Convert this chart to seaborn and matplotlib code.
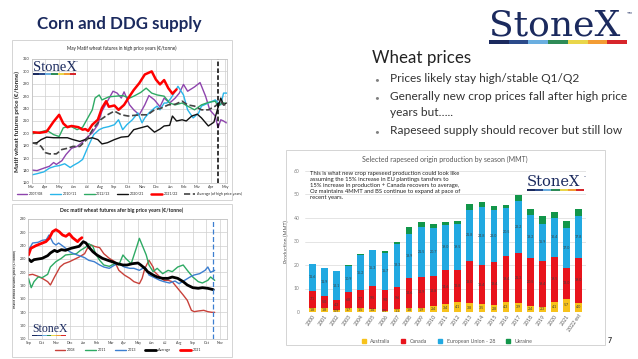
import numpy as np
import pandas as pd
import matplotlib
matplotlib.use("Agg")
import matplotlib.pyplot as plt
import seaborn as sns
from matplotlib.patches import Rectangle
from matplotlib.lines import Line2D

# ---------------- data ----------------
# top-left chart: May Matif wheat futures (x = month index from Mar)
months_top = ['Mar', 'Apr', 'May', 'Jun', 'Jul', 'Aug', 'Sep', 'Oct', 'Nov', 'Dec',
              'Jan', 'Feb', 'Mar', 'Apr', 'May']
red21_x = [0, 0.6, 1.1, 1.6, 2.0, 2.3, 2.6, 2.9, 3.4, 3.7, 3.9, 4.1, 4.4, 4.8, 5.1, 5.4,
           5.6, 6.0, 6.3, 6.7, 7.1, 7.4, 7.8, 8.2, 8.7, 9.0, 9.3, 9.6, 9.9, 10.2, 10.5]
red21_y = [202, 201, 203, 219, 230, 216, 210, 212, 210, 206, 207, 204, 214, 222, 241, 252,
           243, 245, 238, 246, 260, 270, 281, 295, 300, 287, 279, 286, 273, 264, 271]
green12_x = [0, 0.6, 1.1, 1.6, 2.0, 2.3, 2.8, 3.3, 3.7, 4.0, 4.4, 4.6, 4.9, 5.1, 5.6, 6.1,
             6.6, 7.1, 7.4, 7.9, 8.3, 8.7, 9.1, 9.6, 10.0, 10.4, 10.9, 11.3, 11.8, 12.3,
             12.8, 13.3, 13.5, 13.8, 14.0]
green12_y = [199, 202, 205, 198, 195, 209, 212, 206, 210, 222, 238, 257, 262, 254, 259, 260,
             261, 257, 260, 266, 273, 265, 262, 260, 249, 246, 249, 244, 238, 246,
             250, 252, 244, 249, 249]
purple07_x = [0, 0.4, 0.9, 1.3, 1.6, 1.8, 2.2, 2.5, 2.9, 3.3, 3.7, 4.0, 4.4, 4.8, 5.1, 5.5,
              5.9, 6.2, 6.5, 6.7, 7.1, 7.4, 7.8, 8.2, 8.5, 8.9, 9.3, 9.6, 10.0, 10.4, 10.7,
              11.0, 11.3, 11.8, 12.2, 12.6, 12.9, 13.3, 13.5, 13.7, 13.9, 14.1]
purple07_y = [141, 140, 144, 147, 153, 150, 156, 166, 176, 179, 186, 193, 201, 214, 236, 252,
              268, 265, 257, 267, 246, 238, 230, 246, 261, 254, 243, 257, 249, 257, 265,
              279, 268, 275, 282, 260, 238, 228, 209, 222, 220, 217]
blue10_x = [0, 0.4, 0.9, 1.3, 1.7, 2.0, 2.4, 2.8, 3.0, 3.4, 3.7, 4.1, 4.5, 4.9, 5.2, 5.6,
            6.0, 6.3, 6.6, 6.9, 7.3, 7.7, 8.0, 8.2, 8.5, 8.9, 9.1, 9.3, 9.6, 9.8, 10.1,
            10.4, 10.6, 11.0, 11.3, 11.7, 12.1, 12.3, 12.8, 13.3, 13.7, 13.9, 14.2]
blue10_y = [133, 135, 138, 144, 147, 148, 151, 145, 148, 153, 158, 179, 198, 206, 209, 211,
            214, 222, 206, 214, 222, 233, 217, 225, 233, 241, 244, 238, 249, 249, 257,
            268, 276, 262, 238, 225, 233, 244, 249, 254, 246, 265, 265]
black20_x = [0, 0.4, 0.7, 1.1, 1.6, 2.1, 2.6, 3.0, 3.5, 4.0, 4.4, 4.8, 5.1, 5.5, 6.0, 6.5,
             7.0, 7.4, 7.9, 8.4, 8.9, 9.3, 9.6, 10.0, 10.2, 10.5, 10.9, 11.2, 11.6, 12.0,
             12.3, 12.8, 13.2, 13.4, 13.7, 13.9, 14.1]
black20_y = [184, 185, 190, 194, 193, 193, 193, 190, 187, 191, 193, 190, 183, 185, 190, 194,
             195, 206, 209, 212, 202, 207, 212, 213, 228, 220, 222, 220, 228, 231,
             225, 212, 218, 234, 257, 246, 249]
avg_top_x = [0, 0.4, 0.7, 1.0, 1.3, 1.8, 2.2, 2.6, 3.0, 3.5, 4.0, 4.5, 5.0, 5.5, 6.0, 6.5,
             7.0, 7.4, 7.9, 8.4, 8.9, 9.4, 9.9, 10.4, 10.9, 11.3, 11.8, 12.3, 12.8, 13.3,
             13.7, 13.9, 14.1]
avg_top_y = [185, 183, 179, 169, 167, 167, 174, 176, 179, 179, 190, 209, 222, 230, 236, 230,
             228, 229, 230, 230, 238, 241, 246, 247, 252, 246, 244, 238, 238, 244,
             252, 246, 246]

# bottom-left chart: Dec Matif wheat futures (x = month index from Sep)
months_bot = ['Sep', 'Oct', 'Nov', 'Dec', 'Jan', 'Feb', 'Mar', 'Apr', 'May', 'Jun', 'Jul',
              'Aug', 'Sep', 'Oct', 'Nov']
r21_x = [0, 0.17, 0.54, 0.90, 1.27, 1.51, 1.76, 2.0, 2.24, 2.49, 2.73, 2.98, 3.22, 3.59,
         3.71, 3.9]
r21_y = [226, 236, 240, 243, 246, 251, 261, 264, 261, 256, 254, 258, 252, 246, 249, 252]
b13_x = [0, 0.3, 0.7, 1.0, 1.3, 1.5, 1.8, 2.0, 2.2, 2.6, 3.0, 3.3, 3.7, 4.1, 4.4, 4.8,
         5.2, 5.5, 5.9, 6.3, 6.6, 7.0, 7.4, 7.7, 8.1, 8.5, 8.8, 9.2, 9.6, 9.9, 10.3,
         10.7, 11.0, 11.4, 11.8, 12.1, 12.5, 12.9, 13.1, 13.3, 13.6]
b13_y = [233, 244, 245, 248, 249, 256, 244, 241, 244, 238, 231, 228, 225, 222, 218, 216,
         211, 208, 206, 211, 213, 208, 206, 206, 203, 208, 196, 192, 188, 186, 184,
         187, 183, 188, 193, 196, 198, 203, 208, 200, 203]
g11_x = [0, 0.2, 0.4, 0.7, 1.0, 1.4, 1.6, 2.0, 2.4, 2.7, 3.1, 3.5, 3.8, 4.2, 4.4, 4.7,
         4.9, 5.2, 5.5, 5.9, 6.3, 6.6, 6.9, 7.1, 7.5, 7.9, 8.1, 8.3, 8.6, 8.8, 9.1,
         9.4, 9.8, 10.2, 10.5, 10.9, 11.3, 11.6, 12.0, 12.4, 12.7, 13.1, 13.3, 13.6]
g11_y = [191, 177, 186, 193, 192, 197, 208, 216, 221, 226, 227, 228, 233, 238, 243, 239,
         228, 218, 211, 209, 213, 211, 226, 221, 213, 238, 251, 241, 226, 211, 201,
         206, 198, 203, 201, 208, 211, 203, 193, 186, 184, 188, 193, 188]
r08_x = [0, 0.3, 0.7, 1.0, 1.4, 1.6, 1.9, 2.3, 2.6, 3.0, 3.3, 3.7, 4.1, 4.3, 4.6, 4.8,
         5.2, 5.5, 5.9, 6.3, 6.6, 7.0, 7.4, 7.7, 8.1, 8.3, 8.5, 8.8, 9.1, 9.2, 9.6,
         9.9, 10.2, 10.5, 10.9, 11.3, 11.6, 11.9, 12.1, 12.4, 12.8, 13.1, 13.4, 13.6]
r08_y = [196, 197, 194, 191, 186, 181, 193, 208, 213, 216, 219, 223, 228, 236, 241, 239,
         237, 228, 221, 216, 203, 196, 191, 186, 183, 191, 206, 218, 208, 201, 193,
         188, 188, 186, 176, 166, 158, 143, 141, 142, 143, 141, 140, 140]
avg_bot_x = [0, 0.2, 0.4, 0.7, 1.0, 1.4, 1.6, 1.9, 2.1, 2.4, 2.7, 3.1, 3.5, 3.7, 4.0, 4.2,
             4.4, 4.7, 5.0, 5.4, 5.8, 6.1, 6.5, 6.9, 7.2, 7.6, 8.0, 8.2, 8.5, 8.7, 9.1,
             9.4, 9.8, 10.2, 10.5, 10.9, 11.3, 11.6, 12.0, 12.4, 12.7, 13.1, 13.5]
avg_bot_y = [220, 216, 219, 220, 221, 225, 229, 233, 231, 234, 233, 236, 238, 239, 246, 244,
             238, 231, 226, 221, 218, 216, 213, 211, 211, 213, 214, 211, 206, 201, 196,
             193, 191, 191, 193, 191, 186, 181, 177, 176, 177, 176, 174]

# right: rapeseed production (MMT)
seasons = ['2000', '2001', '2002', '2003', '2004', '2005', '2006', '2007', '2008', '2009',
           '2010', '2011', '2012', '2013', '2014', '2015', '2016', '2017', '2018', '2019',
           '2020', '2021', '2022 est']
australia = [1.8, 1.8, 0.9, 1.7, 1.5, 1.4, 0.5, 1.1, 1.8, 1.9, 2.4, 3.4, 4.1, 3.8, 3.5, 2.8,
             4.3, 3.9, 2.4, 2.3, 4.1, 5.7, 4.0]
canada = [7.1, 5.0, 4.3, 6.8, 7.7, 9.5, 9.0, 9.6, 12.6, 12.9, 12.8, 14.6, 13.8, 18.0, 16.4,
          18.4, 19.4, 21.3, 20.5, 19.4, 19.5, 13.0, 19.0]
eu28 = [11.6, 11.9, 12.1, 10.9, 15.2, 15.3, 15.7, 18.3, 18.9, 21.5, 20.7, 19.0, 19.5, 21.8,
        24.8, 22.0, 20.5, 22.2, 18.2, 15.9, 16.4, 17.0, 17.8]
ukraine = [0.1, 0.1, 0.1, 0.4, 0.3, 0.3, 0.6, 1.0, 2.9, 1.9, 1.5, 1.4, 1.4, 2.4, 2.2, 1.7,
           1.2, 2.2, 2.8, 3.1, 2.4, 3.1, 3.2]

# ---------------- style ----------------
sns.set_style("white")
plt.rcParams['font.family'] = ['Lato', 'DejaVu Sans']
NAVY = '#1b2a5e'
LOGO_COLS = ['#1b2a5e', '#2b4a8a', '#6aaee0', '#2e8b57', '#e9d64a', '#f39c34', '#d7262b']

fig = plt.figure(figsize=(6.38, 3.59), dpi=100)
fig.patch.set_facecolor('white')


def fx(px):
    return px / 638


def fy(py):
    return 1 - py / 359


def add_axes_px(x0, y0, x1, y1):
    return fig.add_axes([fx(x0), fy(y1), (x1 - x0) / 638, (y1 - y0) / 359])


def panel(x0, y0, x1, y1):
    fig.add_artist(Rectangle((fx(x0), fy(y1)), (x1 - x0) / 638, (y1 - y0) / 359,
                             transform=fig.transFigure, fill=False,
                             edgecolor='#d4d4d4', lw=0.7))


def logo(x0, x1, ytext, size, ybar, hbar, tm=True, family='DejaVu Serif'):
    fig.text(fx(x0), fy(ytext), 'StoneX', family=family, fontsize=size,
             color=NAVY, ha='left', va='baseline')
    if tm:
        fig.text(fx(x1), fy(ytext) + size * 0.55 / 72 / 3.59, '™', fontsize=size * 0.18,
                 color=NAVY, ha='left', va='bottom')
    w = (x1 - x0) / 7
    for i, c in enumerate(LOGO_COLS):
        fig.add_artist(Rectangle((fx(x0 + i * w), fy(ybar + hbar)), w / 638, hbar / 359,
                                 transform=fig.transFigure, color=c, lw=0))


# ---------------- slide text ----------------
fig.text(fx(37), fy(29), 'Corn and DDG supply', fontsize=12.2, fontweight='bold',
         color=NAVY, ha='left', va='baseline')
logo(489, 627, 36, 26, 40, 3.5)
fig.text(fx(372), fy(63), 'Wheat prices', fontsize=12.2, color='#222222', ha='left',
         va='baseline')
bullets = [(82, 'Prices likely stay high/stable Q1/Q2', True),
           (100, 'Generally new crop prices fall after high price', True),
           (116, 'years but…..', False),
           (134, 'Rapeseed supply should recover but still low', True)]
for y, t, b in bullets:
    if b:
        fig.text(fx(374), fy(y), '•', fontsize=6, color='#7f7f7f', ha='left',
                 va='baseline')
    fig.text(fx(390), fy(y), t, fontsize=8.6, color='#333333', ha='left', va='baseline')
fig.text(fx(608), fy(343), '7', fontsize=5, fontweight='bold', color='#333333')

# ---------------- top-left line chart ----------------
panel(12, 40, 232, 200)
ax1 = add_axes_px(31.5, 59, 227, 183)
top_series = [
    ('2007/08', purple07_x, purple07_y, '#8e44ad', 1.0, '-'),
    ('2010/11', blue10_x, blue10_y, '#29b6ea', 1.0, '-'),
    ('2012/13', green12_x, green12_y, '#2eaa64', 1.0, '-'),
    ('2020/21', black20_x, black20_y, '#111111', 1.0, '-'),
    ('2021/22', red21_x, red21_y, '#ff0000', 1.8, '-'),
    ('Average (of high price years)', avg_top_x, avg_top_y, '#444444', 1.2, '--'),
]
for name, x, y, c, lw, ls in top_series:
    sns.lineplot(x=x, y=y, ax=ax1, color=c, linewidth=lw, linestyle=ls, label=name,
                 estimator=None, sort=False)
ax1.axvline(13.5, color='black', lw=1.1, ls=(0, (3, 1.5)))
ax1.set_xlim(0, 14.15)
ax1.set_ylim(120, 320)
ax1.set_xticks(range(15))
ax1.set_xticklabels(months_top)
ax1.set_yticks(range(120, 321, 20))
ax1.grid(True, color='#cfcfcf', lw=0.5)
ax1.tick_params(labelsize=2.8, length=0, pad=1.5, colors='#333333')
for s in ax1.spines.values():
    s.set_color('#bfbfbf')
    s.set_linewidth(0.5)
ax1.set_ylabel('Matif wheat futures price (€/tonne)', fontsize=4.6, fontweight='bold',
               labelpad=2)
ax1.set_xlabel('')
ax1.legend(loc='upper center', bbox_to_anchor=(0.5, -0.045), ncol=6, fontsize=2.6,
           frameon=False, handlelength=3, columnspacing=1.8, handletextpad=0.5)
fig.text(fx(122), fy(48), 'May Matif wheat futures in high price years (€/tonne)',
         fontsize=3.3, ha='center', va='center', color='#222222')
logo(33, 76, 71, 10.5, 73, 1.6, tm=True, family='Liberation Serif')

# ---------------- bottom-left line chart ----------------
panel(12, 204, 232, 357)
ax2 = add_axes_px(28.5, 219, 227, 339)
bot_series = [
    ('2008', r08_x, r08_y, '#c8413a', 1.0),
    ('2011', g11_x, g11_y, '#2eaa64', 1.0),
    ('2013', b13_x, b13_y, '#3d7fd0', 1.0),
    ('Average', avg_bot_x, avg_bot_y, '#000000', 2.0),
    ('2021', r21_x, r21_y, '#ff0000', 2.0),
]
for name, x, y, c, lw in bot_series:
    sns.lineplot(x=x, y=y, ax=ax2, color=c, linewidth=lw, label=name,
                 estimator=None, sort=False)
ax2.axvline(13.5, color='#3d7fd0', lw=0.9, ls=(0, (4, 2)))
ax2.set_xlim(0, 14.5)
ax2.set_ylim(100, 280)
ax2.set_xticks(range(15))
ax2.set_xticklabels(months_bot)
ax2.set_yticks(range(100, 281, 20))
ax2.grid(True, color='#cfcfcf', lw=0.5)
ax2.tick_params(labelsize=2.6, length=0, pad=1.5, colors='#333333')
for s in ax2.spines.values():
    s.set_color('#bfbfbf')
    s.set_linewidth(0.5)
ax2.set_ylabel('Matif wheat futures price (€/tonne)', fontsize=2.6, fontweight='bold',
               labelpad=2)
ax2.set_xlabel('')
ax2.legend(loc='upper center', bbox_to_anchor=(0.5, -0.05), ncol=5, fontsize=2.6,
           frameon=False, handlelength=3, columnspacing=2.5, handletextpad=0.5)
fig.text(fx(122), fy(210), 'Dec matif wheat futures afer big price years (€/tonne)',
         fontsize=3.7, fontweight='bold', ha='center', va='center', color='#222222')
logo(32, 66, 332, 8.5, 335, 1.4, tm=False, family='Liberation Serif')

# ---------------- rapeseed stacked bar chart ----------------
panel(286, 150, 605, 345)
ax3 = add_axes_px(305, 171, 586, 312)
df = pd.DataFrame({'season': seasons, 'Australia': australia, 'Canada': canada,
                   'European Union - 28': eu28, 'Ukraine': ukraine})
parts = ['Australia', 'Canada', 'European Union - 28', 'Ukraine']
cols = {'Australia': '#f7c21b', 'Canada': '#e8141c',
        'European Union - 28': '#21a9e1', 'Ukraine': '#12964a'}
cum = df[parts].cumsum(axis=1)
for p in reversed(parts):
    sns.barplot(x=df['season'], y=cum[p], color=cols[p], ax=ax3, width=0.55,
                order=seasons, saturation=1, linewidth=0)
for i in range(len(df)):
    base = 0
    for p in parts[:3]:
        v = df[p].iloc[i]
        ax3.text(i, base + v / 2, f'{v:.1f}', fontsize=2.7, ha='center', va='center',
                 color='#404040')
        base += v
ax3.set_ylim(0, 60)
ax3.set_xlim(-0.6, 22.6)
ax3.set_yticks(range(0, 61, 10))
ax3.yaxis.grid(True, color='#d9d9d9', lw=0.5)
ax3.set_axisbelow(True)
for s in ax3.spines.values():
    s.set_visible(False)
ax3.tick_params(axis='y', labelsize=3.6, length=0, pad=4, colors='#7f7f7f')
ax3.tick_params(axis='x', labelsize=3.8, length=0, pad=1, colors='#595959')
plt.setp(ax3.get_xticklabels(), rotation=55, ha='right', rotation_mode='anchor')
ax3.set_xlabel('')
ax3.set_ylabel('Production (MMT)', fontsize=3.8, color='#595959', labelpad=3)
handles = [Line2D([], [], marker='s', ls='', color=cols[p], markersize=2.5) for p in parts]
ax3.legend(handles, parts, loc='upper center', bbox_to_anchor=(0.5, -0.155), ncol=4,
           fontsize=3.8, frameon=False, handletextpad=0.2, columnspacing=1.5,
           labelcolor='#595959')
fig.text(fx(445), fy(159), 'Selected rapeseed origin production by season (MMT)',
         fontsize=5, ha='center', va='center', color='#595959')
note = ('This is what new crop rapeseed production could look like\n'
        'assuming the 15% increase in EU plantings tansfers to\n'
        '15% increase in production + Canada recovers to average,\n'
        'Oz maintains 4MMT and BS continue to expand at pace of\n'
        'recent years.')
fig.text(fx(310), fy(171), note, fontsize=4.2, ha='left', va='top', color='#222222',
         linespacing=1.25)
logo(527, 584, 186, 10.5, 189, 1.6)

fig.savefig('out.png', dpi=100, facecolor='white')
